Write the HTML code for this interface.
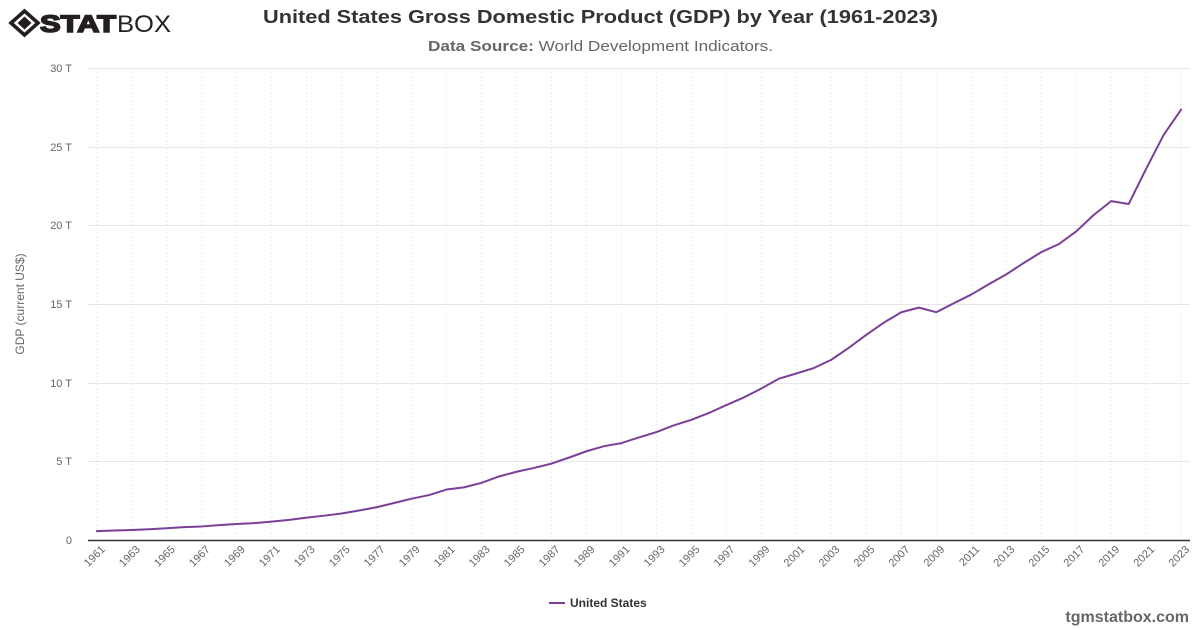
<!DOCTYPE html>
<html>
<head>
<meta charset="utf-8">
<style>
html,body{margin:0;padding:0;background:#fff;}
svg{display:block;font-family:"Liberation Sans",sans-serif;}
</style>
</head>
<body>
<svg width="1200" height="630" viewBox="0 0 1200 630" xmlns="http://www.w3.org/2000/svg">
<rect width="1200" height="630" fill="#fff"/>

<!-- Logo -->
<g fill="#231f20">
  <path d="M24.5 11 L38 23 L24.5 35 L11 23 Z" fill="none" stroke="#231f20" stroke-width="3.6" stroke-linejoin="miter"/>
  <path d="M24.5 16.5 L31.5 23 L24.5 29.5 L17.5 23 Z"/>
  <text x="40" y="32" font-size="24" font-weight="bold" stroke="#231f20" stroke-width="1.6" textLength="76" lengthAdjust="spacingAndGlyphs">STAT</text>
  <text x="117" y="32" font-size="24" font-weight="normal" textLength="54" lengthAdjust="spacingAndGlyphs">BOX</text>
</g>

<!-- Title -->
<text x="263" y="23" font-size="18" font-weight="bold" fill="#333" textLength="675" lengthAdjust="spacingAndGlyphs">United States Gross Domestic Product (GDP) by Year (1961-2023)</text>
<text x="428" y="51" font-size="15" fill="#666" textLength="345" lengthAdjust="spacingAndGlyphs"><tspan font-weight="bold">Data Source:</tspan> World Development Indicators.</text>

<!-- Horizontal grid -->
<g stroke="#e6e6e6" stroke-width="1">
  <line x1="88" y1="68.5" x2="1190" y2="68.5"/>
  <line x1="88" y1="147.5" x2="1190" y2="147.5"/>
  <line x1="88" y1="225.5" x2="1190" y2="225.5"/>
  <line x1="88" y1="304.5" x2="1190" y2="304.5"/>
  <line x1="88" y1="383.5" x2="1190" y2="383.5"/>
  <line x1="88" y1="461.5" x2="1190" y2="461.5"/>
</g>

<!-- Vertical dotted grid -->
<g stroke="#e0e0e0" stroke-width="1" stroke-dasharray="1,3">
  <line x1="96.75" y1="68" x2="96.75" y2="540"/>
  <line x1="131.73" y1="68" x2="131.73" y2="540"/>
  <line x1="166.71" y1="68" x2="166.71" y2="540"/>
  <line x1="201.69" y1="68" x2="201.69" y2="540"/>
  <line x1="236.67" y1="68" x2="236.67" y2="540"/>
  <line x1="271.65" y1="68" x2="271.65" y2="540"/>
  <line x1="306.63" y1="68" x2="306.63" y2="540"/>
  <line x1="341.61" y1="68" x2="341.61" y2="540"/>
  <line x1="376.59" y1="68" x2="376.59" y2="540"/>
  <line x1="411.57" y1="68" x2="411.57" y2="540"/>
  <line x1="446.55" y1="68" x2="446.55" y2="540"/>
  <line x1="481.53" y1="68" x2="481.53" y2="540"/>
  <line x1="516.51" y1="68" x2="516.51" y2="540"/>
  <line x1="551.49" y1="68" x2="551.49" y2="540"/>
  <line x1="586.47" y1="68" x2="586.47" y2="540"/>
  <line x1="621.45" y1="68" x2="621.45" y2="540"/>
  <line x1="656.43" y1="68" x2="656.43" y2="540"/>
  <line x1="691.41" y1="68" x2="691.41" y2="540"/>
  <line x1="726.39" y1="68" x2="726.39" y2="540"/>
  <line x1="761.37" y1="68" x2="761.37" y2="540"/>
  <line x1="796.35" y1="68" x2="796.35" y2="540"/>
  <line x1="831.33" y1="68" x2="831.33" y2="540"/>
  <line x1="866.31" y1="68" x2="866.31" y2="540"/>
  <line x1="901.29" y1="68" x2="901.29" y2="540"/>
  <line x1="936.27" y1="68" x2="936.27" y2="540"/>
  <line x1="971.25" y1="68" x2="971.25" y2="540"/>
  <line x1="1006.23" y1="68" x2="1006.23" y2="540"/>
  <line x1="1041.21" y1="68" x2="1041.21" y2="540"/>
  <line x1="1076.19" y1="68" x2="1076.19" y2="540"/>
  <line x1="1111.17" y1="68" x2="1111.17" y2="540"/>
  <line x1="1146.15" y1="68" x2="1146.15" y2="540"/>
  <line x1="1181.13" y1="68" x2="1181.13" y2="540"/>
</g>

<!-- Y axis labels -->
<g font-size="11" fill="#666" text-anchor="end">
  <text x="72" y="72">30 T</text>
  <text x="72" y="151">25 T</text>
  <text x="72" y="229">20 T</text>
  <text x="72" y="308">15 T</text>
  <text x="72" y="387">10 T</text>
  <text x="72" y="465">5 T</text>
  <text x="72" y="544">0</text>
</g>
<text x="0" y="0" font-size="12" fill="#666" text-anchor="middle" transform="translate(24,304) rotate(-90)">GDP (current US$)</text>

<!-- X axis line -->
<line x1="88" y1="540.5" x2="1190" y2="540.5" stroke="#333" stroke-width="1.5"/>

<!-- X axis labels -->
<g font-size="11" fill="#666" text-anchor="end">
  <text transform="translate(105.75,550) rotate(-45)">1961</text>
  <text transform="translate(140.73,550) rotate(-45)">1963</text>
  <text transform="translate(175.71,550) rotate(-45)">1965</text>
  <text transform="translate(210.69,550) rotate(-45)">1967</text>
  <text transform="translate(245.67,550) rotate(-45)">1969</text>
  <text transform="translate(280.65,550) rotate(-45)">1971</text>
  <text transform="translate(315.63,550) rotate(-45)">1973</text>
  <text transform="translate(350.61,550) rotate(-45)">1975</text>
  <text transform="translate(385.59,550) rotate(-45)">1977</text>
  <text transform="translate(420.57,550) rotate(-45)">1979</text>
  <text transform="translate(455.55,550) rotate(-45)">1981</text>
  <text transform="translate(490.53,550) rotate(-45)">1983</text>
  <text transform="translate(525.51,550) rotate(-45)">1985</text>
  <text transform="translate(560.49,550) rotate(-45)">1987</text>
  <text transform="translate(595.47,550) rotate(-45)">1989</text>
  <text transform="translate(630.45,550) rotate(-45)">1991</text>
  <text transform="translate(665.43,550) rotate(-45)">1993</text>
  <text transform="translate(700.41,550) rotate(-45)">1995</text>
  <text transform="translate(735.39,550) rotate(-45)">1997</text>
  <text transform="translate(770.37,550) rotate(-45)">1999</text>
  <text transform="translate(805.35,550) rotate(-45)">2001</text>
  <text transform="translate(840.33,550) rotate(-45)">2003</text>
  <text transform="translate(875.31,550) rotate(-45)">2005</text>
  <text transform="translate(910.29,550) rotate(-45)">2007</text>
  <text transform="translate(945.27,550) rotate(-45)">2009</text>
  <text transform="translate(980.25,550) rotate(-45)">2011</text>
  <text transform="translate(1015.23,550) rotate(-45)">2013</text>
  <text transform="translate(1050.21,550) rotate(-45)">2015</text>
  <text transform="translate(1085.19,550) rotate(-45)">2017</text>
  <text transform="translate(1120.17,550) rotate(-45)">2019</text>
  <text transform="translate(1155.15,550) rotate(-45)">2021</text>
  <text transform="translate(1190.13,550) rotate(-45)">2023</text>
</g>

<!-- Series -->
<polyline fill="none" stroke="#7b3f98" stroke-width="2" stroke-linejoin="round" stroke-linecap="round" points="
96.75,531.14 114.24,530.48 131.73,529.95 149.22,529.21 166.71,528.29 184.20,527.18 201.69,526.44 219.18,525.18
236.67,523.95 254.16,523.12 271.65,521.67 289.14,519.86 306.63,517.58 324.12,515.69 341.61,513.50 359.10,510.53
376.59,507.24 394.08,503.00 411.57,498.67 429.06,495.05 446.55,489.54 464.04,487.39 481.53,482.82 499.02,476.48
516.51,471.73 534.00,467.94 551.49,463.61 568.98,457.62 586.47,451.25 603.96,446.18 621.45,443.11 638.94,437.42
656.43,432.10 673.92,425.35 691.41,419.80 708.90,412.98 726.39,405.04 743.88,397.41 761.37,388.47 778.86,378.72
796.35,373.51 813.84,368.03 831.33,359.74 848.82,347.79 866.31,334.85 883.80,322.64 901.29,312.26 918.78,307.63
936.27,312.21 953.76,303.23 971.25,294.56 988.74,284.27 1006.23,274.42 1023.72,262.97 1041.21,252.16 1058.70,244.13
1076.19,231.44 1093.68,215.01 1111.17,201.10 1128.66,204.03 1146.15,168.78 1163.64,134.96 1181.13,109.52"/>

<!-- Legend -->
<line x1="549" y1="603" x2="565" y2="603" stroke="#7b3f98" stroke-width="2"/>
<text x="570" y="607" font-size="12" font-weight="bold" fill="#333">United States</text>

<!-- Footer -->
<text x="1189" y="622" font-size="16" font-weight="bold" fill="#666" text-anchor="end">tgmstatbox.com</text>
</svg>
</body>
</html>
